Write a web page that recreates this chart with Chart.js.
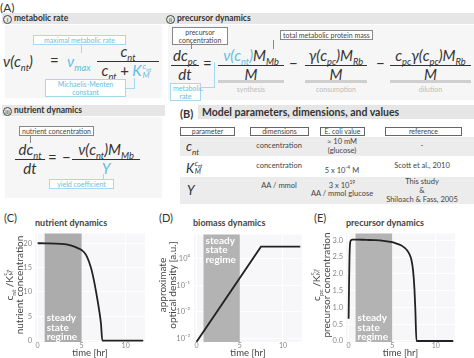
<!DOCTYPE html>
<html>
<head>
<meta charset="utf-8">
<script src="https://cdn.jsdelivr.net/npm/chart.js@4.4.0/dist/chart.umd.min.js"></script>
<style>
body{margin:0;background:#fff}
#fig{position:relative;width:474px;height:358px;overflow:hidden;font-family:Lato,"DejaVu Sans",sans-serif;color:#333}
.a{position:absolute;white-space:nowrap}
.hd{background:#e6e6e6;font-weight:bold;font-size:8.5px;line-height:11px;height:11px}
.ic{display:inline-block;width:7px;height:7px;border:1px solid #444;border-radius:50%;font-size:6px;line-height:7px;text-align:center;font-weight:normal;margin:0 2px 0 1px;vertical-align:-1px}
.pn{background:#f6f6f6}
.m{font-style:italic;font-size:15px;line-height:15px}
.m sub,.m sup{font-size:0.62em;line-height:0}
.up{font-style:normal;font-size:15px;line-height:15px}
.fr{text-align:center}
.fr .bar{height:1.3px;background:#333;margin:2px 0 1px 0}
.bb{border:1px solid #a6d9ee;color:#68c0e2;background:#fff;font-size:7px;line-height:8px;padding:0 2px;text-align:center}
.gb{border:1px solid #888;color:#444;background:#fff;font-size:7px;line-height:8px;padding:0 2px;text-align:center}
.bl{color:#5fbde2}
.bln{background:#a6d9ee}
.gln{background:#888}
.gbar{height:3px;background:#cfcfcf}
.lab{font-size:7px;color:#bbb;text-align:center}
.kk{display:inline-block;position:relative;width:0.85em;height:1em;vertical-align:top}
.kk .s1,.kk .s2{position:absolute;left:0.1em;font-size:0.55em;line-height:1}
.kk .s1{top:-0.15em}
.kk .s2{top:0.95em}
.kk sub{font-size:0.7em;line-height:0}
.th{border:1px solid #666;font-size:7px;line-height:7px;height:7px;text-align:center;background:#fff;color:#444}
.rw{background:#ececec}
.tc{font-size:7.5px;line-height:8.5px;text-align:center;color:#444}
.pl{font-size:11px;color:#333}
.ct{font-size:9px;font-weight:bold;color:#444}
.yt{font-size:10px;line-height:10px;color:#444;transform:translate(-50%,-50%) rotate(-90deg)}
.yt sub{font-size:0.65em;line-height:0}
.cv{position:absolute}
</style>
</head>
<body>
<div id="fig">
  <div class="a pl" style="left:0;top:0;font-size:12px">(A)</div>

  <!-- (i) metabolic rate -->
  <div class="a hd" style="left:2px;top:13px;width:163px"><span class="ic">i</span>metabolic rate</div>
  <div class="a pn" style="left:5px;top:25px;width:157px;height:73px"></div>
  <div class="a bb" style="left:33px;top:35px;width:87px">maximal metabolic rate</div>
  <div class="a bln" style="left:81px;top:45px;width:1px;height:8px"></div>
  <div class="a m" style="left:3px;top:54px">ν(c<sub>nt</sub>)</div>
  <div class="a up" style="left:50px;top:53px">=</div>
  <div class="a m bl" style="left:67px;top:54px">ν<sub>max</sub></div>
  <div class="a m fr" style="left:97px;top:44px;width:62px">
    <div>c<sub>nt</sub></div><div class="bar"></div>
    <div>c<sub>nt</sub> <span style="font-style:normal">+</span> <span class="bl">K<span class="kk"><span class="s1">c<sub>nt</sub></span><span class="s2">M</span></span></span></div>
  </div>
  <div class="a bb" style="left:45px;top:79px;width:75px">Michaelis-Menten<br>constant</div>
  <div class="a bln" style="left:125px;top:88px;width:9px;height:1px"></div>
  <div class="a bln" style="left:134px;top:78px;width:1px;height:11px"></div>

  <!-- (ii) precursor dynamics -->
  <div class="a hd" style="left:165px;top:13px;width:309px"><span class="ic">ii</span>precursor dynamics</div>
  <div class="a pn" style="left:168px;top:25px;width:306px;height:75px"></div>
  <div class="a gb" style="left:172px;top:27px;width:50px">precursor<br>concentration</div>
  <div class="a gln" style="left:191px;top:42px;width:1px;height:7px"></div>
  <div class="a gb" style="left:280px;top:30px">total metabolic protein mass</div>
  <div class="a gln" style="left:273px;top:40px;width:1px;height:9px"></div>
  <div class="a m fr" style="left:171px;top:48px;width:28px">
    <div>dc<sub>pc</sub></div><div class="bar"></div><div>dt</div>
  </div>
  <div class="a up" style="left:203px;top:56px">=</div>
  <div class="a m fr" style="left:218px;top:48px;width:66px">
    <div><span class="bl">ν(c<sub>nt</sub>)</span>M<sub>Mb</sub></div><div class="bar"></div><div>M</div>
  </div>
  <div class="a gbar" style="left:218px;top:80px;width:66px"></div>
  <div class="a lab" style="left:218px;top:85px;width:66px">synthesis</div>
  <div class="a up" style="left:289px;top:56px">−</div>
  <div class="a m fr" style="left:305px;top:48px;width:62px">
    <div>γ(c<sub>pc</sub>)M<sub>Rb</sub></div><div class="bar"></div><div>M</div>
  </div>
  <div class="a gbar" style="left:305px;top:80px;width:62px"></div>
  <div class="a lab" style="left:305px;top:85px;width:62px">consumption</div>
  <div class="a up" style="left:376px;top:56px">−</div>
  <div class="a m fr" style="left:390px;top:48px;width:81px">
    <div>c<sub>pc</sub>γ(c<sub>pc</sub>)M<sub>Rb</sub></div><div class="bar"></div><div>M</div>
  </div>
  <div class="a gbar" style="left:390px;top:80px;width:81px"></div>
  <div class="a lab" style="left:390px;top:85px;width:81px">dilution</div>
  <div class="a bb" style="left:170px;top:83px;width:25px">metabolic<br>rate</div>
  <div class="a bln" style="left:200px;top:87px;width:14px;height:1px"></div>
  <div class="a bln" style="left:214px;top:62px;width:1px;height:26px"></div>

  <!-- (iii) nutrient dynamics -->
  <div class="a hd" style="left:2px;top:105px;width:163px"><span class="ic">iii</span>nutrient dynamics</div>
  <div class="a pn" style="left:5px;top:117px;width:157px;height:81px"></div>
  <div class="a gb" style="left:19px;top:126px">nutrient concentration</div>
  <div class="a gln" style="left:30px;top:135px;width:1px;height:8px"></div>
  <div class="a m fr" style="left:15px;top:142px;width:30px">
    <div>dc<sub>nt</sub></div><div class="bar"></div><div>dt</div>
  </div>
  <div class="a up" style="left:48px;top:150px">=</div>
  <div class="a up" style="left:62px;top:150px">−</div>
  <div class="a m fr" style="left:72px;top:142px;width:68px">
    <div>ν(c<sub>nt</sub>)M<sub>Mb</sub></div><div class="bar"></div><div class="bl">Y</div>
  </div>
  <div class="a bln" style="left:103px;top:174px;width:1px;height:5px"></div>
  <div class="a bb" style="left:49px;top:179px;width:59px">yield coefficient</div>

  <!-- (B) table -->
  <div class="a pl" style="left:180px;top:107px;font-weight:bold">(B)</div>
  <div class="a hd" style="left:198px;top:105px;width:272px;height:14px;line-height:14px;font-size:10.5px;padding-left:4px">Model parameters, dimensions, and values</div>
  <div class="a th" style="left:180px;top:127px;width:53px">parameter</div>
  <div class="a th" style="left:250px;top:127px;width:57px">dimensions</div>
  <div class="a th" style="left:320px;top:127px;width:43px">E. coli value</div>
  <div class="a th" style="left:385px;top:127px;width:75px">reference</div>
  <div class="a rw" style="left:180px;top:137px;width:294px;height:19px"></div>
  <div class="a rw" style="left:180px;top:177px;width:294px;height:27px"></div>
  <div class="a m" style="left:186px;top:139px;font-size:13px">c<sub>nt</sub></div>
  <div class="a m" style="left:186px;top:161px;font-size:13px">K<span class="kk"><span class="s1">c<sub>nt</sub></span><span class="s2">M</span></span></div>
  <div class="a m" style="left:187px;top:183px;font-size:13px">Y</div>
  <div class="a tc" style="left:250px;top:142px;width:58px">concentration</div>
  <div class="a tc" style="left:250px;top:162px;width:58px">concentration</div>
  <div class="a tc" style="left:250px;top:182px;width:58px">AA / mmol</div>
  <div class="a tc" style="left:306px;top:138px;width:72px">≈ 10 mM<br>(glucose)</div>
  <div class="a tc" style="left:306px;top:163px;width:72px">5 x 10<sup style="font-size:5px">-4</sup> M</div>
  <div class="a tc" style="left:306px;top:178px;width:72px">3 x 10<sup style="font-size:5px">19</sup><br>AA / mmol glucose</div>
  <div class="a tc" style="left:380px;top:142px;width:84px">-</div>
  <div class="a tc" style="left:380px;top:162px;width:84px">Scott et al., 2010</div>
  <div class="a tc" style="left:380px;top:177px;width:84px;line-height:9px">This study<br>&amp;<br>Shiloach &amp; Fass, 2005</div>

  <!-- bottom panels -->
  <div class="a pl" style="left:4px;top:211px">(C)</div>
  <div class="a pl" style="left:159px;top:211px">(D)</div>
  <div class="a pl" style="left:314px;top:211px">(E)</div>
  <div class="a ct" style="left:35px;top:217px">nutrient dynamics</div>
  <div class="a ct" style="left:193px;top:217px">biomass dynamics</div>
  <div class="a ct" style="left:346px;top:217px">precursor dynamics</div>

  <div class="cv" style="left:0;top:226px"><canvas id="chartC" width="150" height="132"></canvas></div>
  <div class="cv" style="left:155px;top:226px"><canvas id="chartD" width="150" height="132"></canvas></div>
  <div class="cv" style="left:310px;top:226px"><canvas id="chartE" width="150" height="132"></canvas></div>

  <div class="a yt" style="left:9px;top:284px">c<sub>nt</sub> /K<span class="kk"><span class="s1">c<sub>nt</sub></span><span class="s2">M</span></span></div>
  <div class="a yt" style="left:19px;top:285px">nutrient concentration</div>
  <div class="a yt" style="left:162px;top:285px">approximate</div>
  <div class="a yt" style="left:172px;top:285px">optical density [a.u.]</div>
  <div class="a yt" style="left:316px;top:284px">c<sub>pc</sub> /K<span class="kk"><span class="s1">c<sub>nt</sub></span><span class="s2">M</span></span></div>
  <div class="a yt" style="left:326px;top:285px">precursor concentration</div>
</div>

<script>
// time axis shared by all three panels
var xTicks = [0, 5, 10];
var steadyStart = 0.8;
var steadyEnd = 5;

// (C) nutrient dynamics
var timeC = [0, 1, 2, 3, 3.5, 4, 4.5, 5, 5.5, 6, 6.25, 6.5, 6.75, 7, 7.2, 7.35, 8, 9, 10, 11, 12];
var nutrient = [20, 19.98, 19.93, 19.8, 19.65, 19.4, 19.05, 18.6, 17.6, 15.3, 13.6, 11.4, 8.9, 6.1, 3.4, 0, 0, 0, 0, 0, 0];
var yTicksC = [0, 5, 10, 15, 20];

// (D) biomass dynamics
var timeD = [0, 7.45, 12];
var density = [0.00076, 2.8, 2.8];
var yTicksD = [0.001, 0.01, 0.1, 1];
var yLabelsD = ['10⁻³', '10⁻²', '10⁻¹', '10⁰'];

// (E) precursor dynamics
var timeE = [0, 0.05, 0.1, 0.15, 0.25, 0.4, 1, 2, 3, 4, 5, 5.5, 6, 6.4, 6.7, 7, 7.2, 7.4, 7.55, 7.65, 7.78, 8, 9, 10, 11, 12];
var precursor = [0.66, 1.7, 2.5, 2.85, 2.99, 3.02, 3.02, 3.01, 3.0, 2.98, 2.94, 2.9, 2.85, 2.78, 2.7, 2.57, 2.42, 2.08, 1.55, 0.95, 0, 0, 0, 0, 0, 0];
var yTicksE = [0, 0.5, 1, 1.5, 2, 2.5, 3];

var plotBg = {
    id: 'plotBg',
    beforeDraw: function(chart) {
        var a = chart.chartArea, ctx = chart.ctx;
        ctx.save();
        ctx.fillStyle = '#f7f7f9';
        ctx.fillRect(a.left, a.top, a.right - a.left, a.bottom - a.top);
        ctx.restore();
    }
};

var steadyShade = {
    id: 'steadyShade',
    beforeDatasetsDraw: function(chart, args, opts) {
        var a = chart.chartArea, ctx = chart.ctx, x = chart.scales.x;
        var x0 = x.getPixelForValue(steadyStart), x1 = x.getPixelForValue(steadyEnd);
        ctx.save();
        ctx.fillStyle = opts.color;
        ctx.fillRect(x0, a.top, x1 - x0, a.bottom - a.top);
        ctx.fillStyle = '#fff';
        ctx.font = 'bold 10px Lato';
        ctx.textBaseline = 'top';
        var lines = ['steady', 'state', 'regime'];
        var y0 = opts.pos == 'top' ? a.top + 1 : a.bottom - 29;
        for (var i = 0; i < lines.length; i++) {
            ctx.fillText(lines[i], x0 + 2, y0 + i * 9.5);
        }
        ctx.restore();
    }
};

function pts(xs, ys) {
    return xs.map(function(v, i) { return {x: v, y: ys[i]}; });
}

function hienThi(id, xs, ys, yScale, yWidth, padLeft, padRight, shadePos, shadeColor, smooth) {
    var cfg = {
        type: 'line',
        data: {
            datasets: [{
                data: pts(xs, ys),
                borderColor: '#222',
                borderWidth: 1.8,
                pointRadius: 0,
                fill: false,
                tension: 0,
                cubicInterpolationMode: smooth ? 'monotone' : 'default'
            }]
        },
        options: {
            responsive: false,
            animation: false,
            layout: {padding: {left: padLeft, right: padRight, top: 2, bottom: 0}},
            plugins: {
                legend: {display: false},
                tooltip: {enabled: false},
                steadyShade: {pos: shadePos, color: shadeColor}
            },
            scales: {
                x: {
                    type: 'linear',
                    min: -0.3,
                    max: 12.2,
                    afterBuildTicks: function(s) { s.ticks = xTicks.map(function(v) { return {value: v}; }); },
                    afterFit: function(s) { s.height = 16; },
                    grid: {color: '#ffffff', lineWidth: 1, drawTicks: false},
                    border: {display: false},
                    ticks: {color: '#888', font: {family: 'Lato', size: 7}, padding: 0, maxRotation: 0},
                    title: {display: true, text: 'time [hr]', color: '#444', font: {family: 'Lato', size: 9.5, lineHeight: 1}, padding: 0}
                },
                y: Object.assign({
                    afterFit: function(s) { s.width = yWidth; },
                    grid: {color: '#ffffff', lineWidth: 1, drawTicks: false},
                    border: {display: false}
                }, yScale)
            }
        },
        plugins: [plotBg, steadyShade]
    };
    var ctx = document.getElementById(id).getContext('2d');
    return new Chart(ctx, cfg);
}

var tickFont = {family: 'Lato', size: 7.5};

hienThi('chartC', timeC, nutrient, {
    min: -0.3, max: 22,
    afterBuildTicks: function(s) { s.ticks = yTicksC.map(function(v) { return {value: v}; }); },
    ticks: {color: '#888', font: tickFont, padding: 3}
}, 15, 20, 5, 'bottom', '#acacac', true);

hienThi('chartD', timeD, density, {
    type: 'logarithmic', min: 0.00075, max: 8,
    afterBuildTicks: function(s) { s.ticks = yTicksD.map(function(v) { return {value: v}; }); },
    ticks: {color: '#888', font: tickFont, padding: 4,
            callback: function(v) { return yLabelsD[yTicksD.indexOf(v)]; }}
}, 17, 22, 3, 'top', '#b3b3b3', false);

hienThi('chartE', timeE, precursor, {
    min: -0.03, max: 3.2,
    afterBuildTicks: function(s) { s.ticks = yTicksE.map(function(v) { return {value: v}; }); },
    ticks: {color: '#888', font: tickFont, padding: 3,
            callback: function(v) { return v.toFixed(1); }}
}, 14, 22, 5, 'bottom', '#b3b3b3', true);
</script>
</body>
</html>
